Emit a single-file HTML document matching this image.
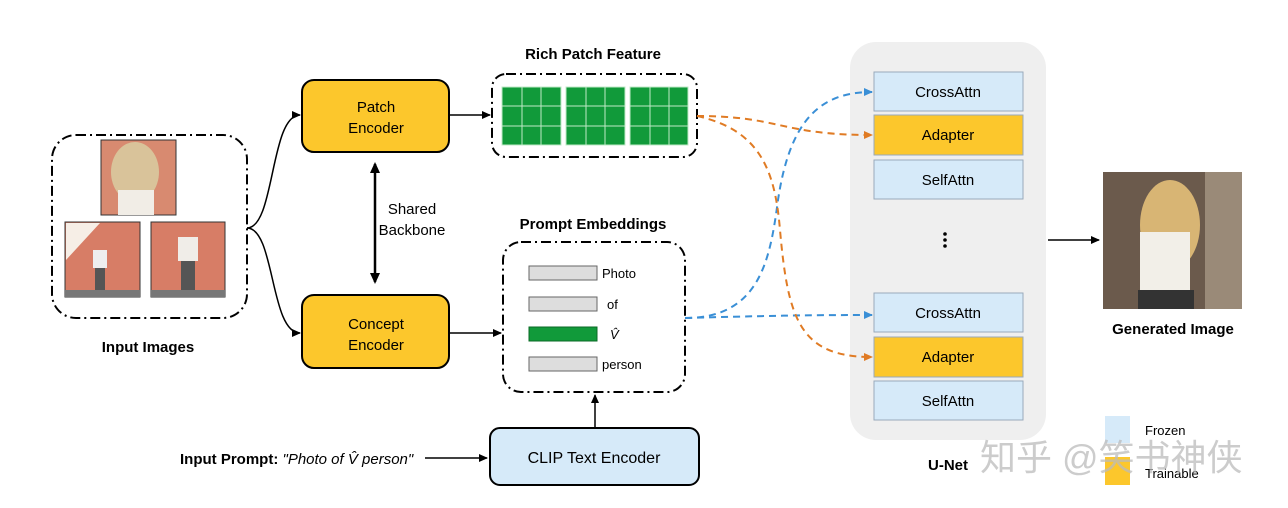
<!DOCTYPE html>
<html><head><meta charset="utf-8"><style>
html,body{margin:0;padding:0;background:#fff}
svg{display:block}
text{font-family:"Liberation Sans","Noto Sans CJK SC",sans-serif}
</style></head><body>
<svg width="1288" height="508" viewBox="0 0 1288 508" xmlns="http://www.w3.org/2000/svg">
<defs>
<marker id="ak" markerWidth="10" markerHeight="10" refX="8" refY="5" orient="auto" markerUnits="userSpaceOnUse"><path d="M0,1 L9,5 L0,9 z" fill="#000"/></marker>
<marker id="ab" markerWidth="10" markerHeight="10" refX="8" refY="5" orient="auto" markerUnits="userSpaceOnUse"><path d="M0,1 L9,5 L0,9 z" fill="#3a8fd6"/></marker>
<marker id="ao" markerWidth="10" markerHeight="10" refX="8" refY="5" orient="auto" markerUnits="userSpaceOnUse"><path d="M0,1 L9,5 L0,9 z" fill="#e07b24"/></marker>
<marker id="as" markerWidth="12" markerHeight="12" refX="9" refY="6" orient="auto-start-reverse" markerUnits="userSpaceOnUse"><path d="M0,1 L11,6 L0,11 z" fill="#000"/></marker>
</defs>

<!-- Input images -->
<rect x="52" y="135" width="195" height="183" rx="24" fill="none" stroke="#000" stroke-width="2" stroke-dasharray="10,4,2,4"/>
<rect x="101" y="140" width="75" height="75" fill="#d88a70" stroke="#333"/>
<ellipse cx="135" cy="172" rx="24" ry="30" fill="#d9c39a"/>
<rect x="118" y="190" width="36" height="25" fill="#f1ede6"/>
<rect x="65" y="222" width="75" height="75" fill="#d77d66" stroke="#333"/>
<path d="M66,223 L100,223 L66,260 z" fill="#f6eee6"/>
<rect x="93" y="250" width="14" height="18" fill="#eee"/><rect x="95" y="268" width="10" height="24" fill="#555"/>
<rect x="65" y="290" width="75" height="7" fill="#777"/>
<rect x="151" y="222" width="74" height="75" fill="#d77d66" stroke="#333"/>
<rect x="178" y="237" width="20" height="24" fill="#f0ede8"/><rect x="181" y="261" width="14" height="30" fill="#555"/>
<rect x="151" y="290" width="74" height="7" fill="#777"/>
<text x="148" y="352" font-size="15" font-weight="bold" text-anchor="middle">Input Images</text>

<path d="M247,228 C275,228 270,115 300,115" fill="none" stroke="#000" stroke-width="1.5" marker-end="url(#ak)"/>
<path d="M247,228 C275,228 270,333 300,333" fill="none" stroke="#000" stroke-width="1.5" marker-end="url(#ak)"/>

<!-- encoders -->
<rect x="302" y="80" width="147" height="72" rx="12" fill="#fcc72c" stroke="#000" stroke-width="2"/>
<text x="376" y="112" font-size="15" text-anchor="middle">Patch</text>
<text x="376" y="133" font-size="15" text-anchor="middle">Encoder</text>
<rect x="302" y="295" width="147" height="73" rx="12" fill="#fcc72c" stroke="#000" stroke-width="2"/>
<text x="376" y="329" font-size="15" text-anchor="middle">Concept</text>
<text x="376" y="350" font-size="15" text-anchor="middle">Encoder</text>
<line x1="375" y1="164" x2="375" y2="282" stroke="#000" stroke-width="2.5" marker-start="url(#as)" marker-end="url(#as)"/>
<text x="412" y="214" font-size="15" text-anchor="middle">Shared</text>
<text x="412" y="235" font-size="15" text-anchor="middle">Backbone</text>

<!-- rich patch -->
<text x="593" y="59" font-size="15" font-weight="bold" text-anchor="middle">Rich Patch Feature</text>
<rect x="492" y="74" width="205" height="83" rx="14" fill="none" stroke="#000" stroke-width="2" stroke-dasharray="10,4,2,4"/>
<line x1="449" y1="115" x2="490" y2="115" stroke="#000" stroke-width="1.5" marker-end="url(#ak)"/>
<g fill="#119a3a" stroke="#bfe9c7" stroke-width="1">
<rect x="502" y="87" width="20" height="19"/><rect x="522" y="87" width="19" height="19"/><rect x="541" y="87" width="20" height="19"/>
<rect x="502" y="106" width="20" height="20"/><rect x="522" y="106" width="19" height="20"/><rect x="541" y="106" width="20" height="20"/>
<rect x="502" y="126" width="20" height="19"/><rect x="522" y="126" width="19" height="19"/><rect x="541" y="126" width="20" height="19"/>
<rect x="566" y="87" width="20" height="19"/><rect x="586" y="87" width="19" height="19"/><rect x="605" y="87" width="20" height="19"/>
<rect x="566" y="106" width="20" height="20"/><rect x="586" y="106" width="19" height="20"/><rect x="605" y="106" width="20" height="20"/>
<rect x="566" y="126" width="20" height="19"/><rect x="586" y="126" width="19" height="19"/><rect x="605" y="126" width="20" height="19"/>
<rect x="630" y="87" width="20" height="19"/><rect x="650" y="87" width="19" height="19"/><rect x="669" y="87" width="19" height="19"/>
<rect x="630" y="106" width="20" height="20"/><rect x="650" y="106" width="19" height="20"/><rect x="669" y="106" width="19" height="20"/>
<rect x="630" y="126" width="20" height="19"/><rect x="650" y="126" width="19" height="19"/><rect x="669" y="126" width="19" height="19"/>
</g>

<!-- prompt embeddings -->
<text x="593" y="229" font-size="15" font-weight="bold" text-anchor="middle">Prompt Embeddings</text>
<rect x="503" y="242" width="182" height="150" rx="18" fill="none" stroke="#000" stroke-width="2" stroke-dasharray="10,4,2,4"/>
<line x1="449" y1="333" x2="501" y2="333" stroke="#000" stroke-width="1.5" marker-end="url(#ak)"/>
<rect x="529" y="266" width="68" height="14" fill="#ddd" stroke="#666"/>
<rect x="529" y="297" width="68" height="14" fill="#ddd" stroke="#666"/>
<rect x="529" y="327" width="68" height="14" fill="#119a3a" stroke="#0a6a25"/>
<rect x="529" y="357" width="68" height="14" fill="#ddd" stroke="#666"/>
<text x="602" y="278" font-size="13">Photo</text>
<text x="607" y="309" font-size="13">of</text>
<text x="610" y="339" font-size="13" font-style="italic">V̂</text>
<text x="602" y="369" font-size="13">person</text>

<!-- CLIP -->
<rect x="490" y="428" width="209" height="57" rx="10" fill="#d6eaf9" stroke="#000" stroke-width="2"/>
<text x="594" y="463" font-size="16" text-anchor="middle">CLIP Text Encoder</text>
<line x1="595" y1="428" x2="595" y2="395" stroke="#000" stroke-width="1.5" marker-end="url(#ak)"/>
<text x="180" y="464" font-size="15"><tspan font-weight="bold">Input Prompt:</tspan><tspan font-style="italic"> "Photo of V̂  person"</tspan></text>
<line x1="425" y1="458" x2="487" y2="458" stroke="#000" stroke-width="1.5" marker-end="url(#ak)"/>

<!-- U-Net -->
<rect x="850" y="42" width="196" height="398" rx="26" fill="#efefef"/>
<g stroke="#9ab" stroke-width="1">
<rect x="874" y="72" width="149" height="39" fill="#d6eaf9"/>
<rect x="874" y="115" width="149" height="40" fill="#fcc72c"/>
<rect x="874" y="160" width="149" height="39" fill="#d6eaf9"/>
<rect x="874" y="293" width="149" height="39" fill="#d6eaf9"/>
<rect x="874" y="337" width="149" height="40" fill="#fcc72c"/>
<rect x="874" y="381" width="149" height="39" fill="#d6eaf9"/>
</g>
<g font-size="15" text-anchor="middle">
<text x="948" y="97">CrossAttn</text><text x="948" y="140">Adapter</text><text x="948" y="185">SelfAttn</text>
<text x="948" y="318">CrossAttn</text><text x="948" y="362">Adapter</text><text x="948" y="406">SelfAttn</text>
</g>
<circle cx="945" cy="234" r="1.8"/><circle cx="945" cy="240" r="1.8"/><circle cx="945" cy="246" r="1.8"/>
<text x="948" y="470" font-size="15" font-weight="bold" text-anchor="middle">U-Net</text>

<!-- dashed connectors -->
<g fill="none" stroke-width="2" stroke-dasharray="7,5">
<path d="M685,318 C760,318 770,260 778,200 C790,120 820,92 872,92" stroke="#3a8fd6" marker-end="url(#ab)"/>
<path d="M685,318 C760,316 800,315 872,315" stroke="#3a8fd6" marker-end="url(#ab)"/>
<path d="M697,116 C780,116 780,135 872,135" stroke="#e07b24" marker-end="url(#ao)"/>
<path d="M697,116 C760,130 775,170 780,230 C788,320 800,357 872,357" stroke="#e07b24" marker-end="url(#ao)"/>
</g>

<!-- output -->
<line x1="1048" y1="240" x2="1099" y2="240" stroke="#000" stroke-width="1.5" marker-end="url(#ak)"/>
<rect x="1103" y="172" width="139" height="137" fill="#6b5a4c"/>
<rect x="1205" y="172" width="37" height="137" fill="#9a8a78"/>
<ellipse cx="1170" cy="225" rx="30" ry="45" fill="#d8b574"/>
<rect x="1140" y="232" width="50" height="60" fill="#f2efe8"/>
<rect x="1138" y="290" width="56" height="19" fill="#333"/>
<text x="1173" y="334" font-size="15" font-weight="bold" text-anchor="middle">Generated Image</text>

<!-- legend -->
<rect x="1105" y="416" width="25" height="27" fill="#d6eaf9"/>
<rect x="1105" y="457" width="25" height="28" fill="#fcc72c"/>
<text x="1145" y="435" font-size="13">Frozen</text>
<text x="1145" y="478" font-size="13">Trainable</text>
<text x="980" y="470" font-size="36" fill="#bbb" fill-opacity="0.75">知乎 @笑书神侠</text>
</svg>
</body></html>
